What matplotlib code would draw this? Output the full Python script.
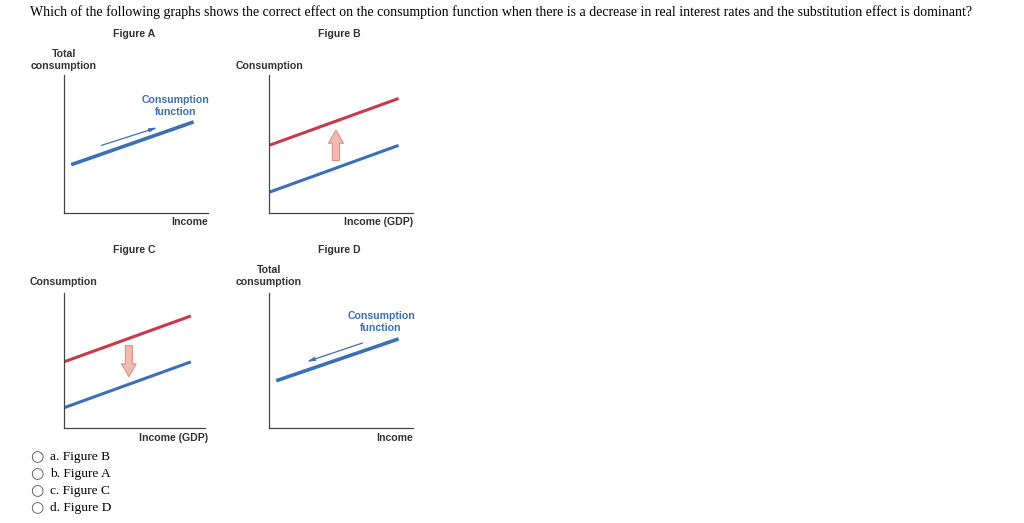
import numpy as np
from matplotlib import pyplot as plt
from matplotlib.patches import FancyArrow

question = ('Which of the following graphs shows the correct effect on the consumption function '
            'when there is a decrease in real interest rates and the substitution effect is dominant?')
options = ['a. Figure B', 'b. Figure A', 'c. Figure C', 'd. Figure D']

# single consumption function (figures A and D), x in 0..10 units
single_x = [0.5, 9.0]
single_y = [3.5, 6.6]
# movement-along arrows (start, end)
arrow_a = [(2.6, 4.9), (6.5, 6.2)]
arrow_d = [(6.5, 6.3), (2.6, 4.9)]

# two consumption functions (figures B and C)
pair_x = [0.0, 9.0]
low_y = [1.5, 4.9]
high_y = [4.9, 8.3]
# shift arrows (x, y start, y end)
shift_b = (4.65, 3.8, 6.0)
shift_c = (4.6, 6.1, 3.8)

blue = '#3b6fb6'
red = '#c9394a'
W, H = 1024, 523

fig = plt.figure(figsize=(W / 100, H / 100), dpi=100)
plt.rcParams['font.family'] = ['Liberation Sans', 'DejaVu Sans']


def px_axes(x0, y0, x1, y1):
    ax = fig.add_axes([x0 / W, 1 - y1 / H, (x1 - x0) / W, (y1 - y0) / H])
    ax.set_xlim(0, 10)
    ax.set_ylim(0, 10)
    for s in ['top', 'right']:
        ax.spines[s].set_visible(False)
    for s in ['left', 'bottom']:
        ax.spines[s].set_color('#444444')
        ax.spines[s].set_linewidth(0.9)
    ax.set_xticks([])
    ax.set_yticks([])
    ax.patch.set_alpha(0)
    return ax


def label(x, y, s, color='#333333', **kw):
    fig.text(x / W, 1 - y / H, s, fontsize=7.6, fontweight='bold', color=color,
             va='center', linespacing=1.15, **kw)


def thin_arrow(ax, pts):
    (xs, ys), (xe, ye) = pts
    ax.annotate('', xy=(xe, ye), xytext=(xs, ys),
                arrowprops=dict(arrowstyle='-|>,head_length=0.45,head_width=0.1',
                                color=blue, lw=0.9, shrinkA=0, shrinkB=0))


def fat_arrow(ax, spec):
    x, ys, ye = spec
    ax.add_patch(FancyArrow(x, ys, 0, ye - ys, width=0.5, head_width=1.05,
                            head_length=0.95, length_includes_head=True,
                            facecolor='#f0bab2', edgecolor='#d99088', lw=0.8, zorder=3))


# question
fig.text(30 / W, 1 - 12 / H, question, fontsize=10.0, family=['Liberation Serif'],
         va='center', color='black')

# Figure A
axA = px_axes(64, 75, 208, 213)
axA.plot(single_x, single_y, color=blue, lw=2.6, solid_capstyle='butt')
thin_arrow(axA, arrow_a)
label(134, 34, 'Figure A', ha='center')
label(64, 60, 'Total\nconsumption', ha='center')
label(176, 106, 'Consumption\nfunction', ha='center', color=blue)
label(208, 222, 'Income', ha='right')

# Figure B
axB = px_axes(269, 75, 413, 213)
axB.plot(pair_x, high_y, color=red, lw=2.2, solid_capstyle='butt')
axB.plot(pair_x, low_y, color=blue, lw=2.2, solid_capstyle='butt')
fat_arrow(axB, shift_b)
label(339, 34, 'Figure B', ha='center')
label(269, 66, 'Consumption', ha='center')
label(413, 222, 'Income (GDP)', ha='right')

# Figure C
axC = px_axes(64, 293, 205, 428)
axC.plot(pair_x, high_y, color=red, lw=2.2, solid_capstyle='butt')
axC.plot(pair_x, low_y, color=blue, lw=2.2, solid_capstyle='butt')
fat_arrow(axC, shift_c)
label(134, 250, 'Figure C', ha='center')
label(64, 282, 'Consumption', ha='center')
label(208, 438, 'Income (GDP)', ha='right')

# Figure D
axD = px_axes(269, 293, 413, 428)
axD.plot(single_x, single_y, color=blue, lw=2.6, solid_capstyle='butt')
thin_arrow(axD, arrow_d)
label(339, 250, 'Figure D', ha='center')
label(269, 276, 'Total\nconsumption', ha='center')
label(381, 322, 'Consumption\nfunction', ha='center', color=blue)
label(413, 438, 'Income', ha='right')

# answer options
for i, opt in enumerate(options):
    y = 457 + i * 17
    fig.text(37 / W, 1 - y / H, '\u25cb', fontsize=11, va='center', ha='center',
             color='#555555', family=['DejaVu Sans'])
    fig.text(50 / W, 1 - y / H, opt, fontsize=9.6, va='center',
             family=['Liberation Serif'])

plt.savefig('out.png', dpi=100)
